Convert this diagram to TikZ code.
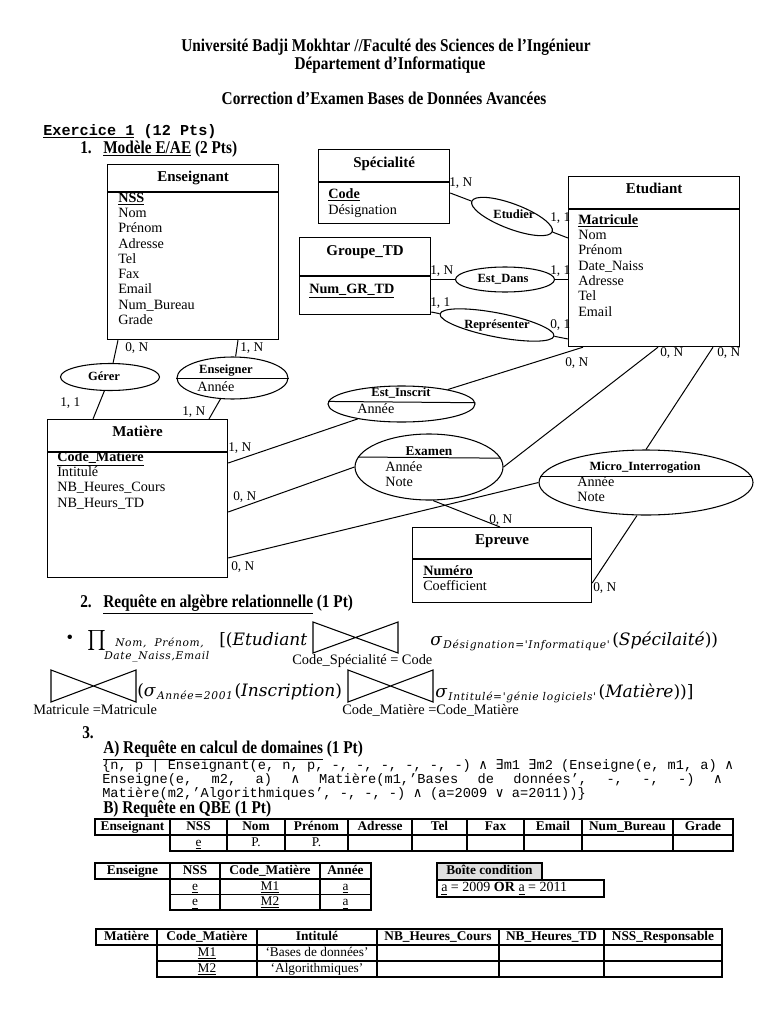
\documentclass[tikz,border=0pt]{standalone}
\usepackage{fontspec}
\setmainfont{Liberation Serif}
\setmonofont{Liberation Mono}
\newfontfamily\headfont[FakeStretch=0.85]{Liberation Serif}
\newfontfamily\mathitfont{DejaVu Serif}
\newfontfamily\mathsubfont[LetterSpace=6]{DejaVu Serif}
\newfontfamily\symfont{DejaVu Sans Mono}
\usetikzlibrary{calc,positioning,shapes.geometric}

\newcommand{\jsp}{\hspace{0pt plus 1fil}\ }

\begin{document}
\begin{tikzpicture}[x=0.75pt,y=-0.75pt,
    txt/.style={inner sep=0pt,text height=.7em,text depth=.2em},
    heading/.style={txt,anchor=west,font=\headfont\bfseries\fontsize{13.5}{16}\selectfont},
    entity/.style 2 args={draw,line width=0.9pt,rectangle,inner sep=0pt,
                          anchor=north west,minimum width=#1*0.75pt,minimum height=#2*0.75pt},
    etitle/.style={txt,font=\bfseries\fontsize{11.25}{13}\selectfont},
    attr/.style={txt,anchor=west,font=\fontsize{10.65}{12}\selectfont},
    relation/.style 2 args={draw,line width=0.8pt,ellipse,inner sep=0pt,
                          minimum width=#1*0.75pt,minimum height=#2*0.75pt},
    rname/.style={txt,font=\bfseries\fontsize{9.4}{11}\selectfont},
    card/.style={txt,anchor=west,font=\fontsize{10}{12}\selectfont},
    link/.style={line width=0.75pt},
    bowtie/.style={line width=0.8pt,line join=miter},
    jlabel/.style={txt,anchor=west,font=\fontsize{10.8}{12}\selectfont},
    mfrag/.style={inner sep=0pt,font=\mathitfont\itshape\fontsize{12.8}{14}\selectfont},
    msub/.style={inner sep=0pt,font=\mathsubfont\itshape\fontsize{8}{9}\selectfont},
    calc/.style={txt,anchor=west,font=\ttfamily\fontsize{10.24}{12}\selectfont},
    tline/.style={line width=0.9pt},
    thead/.style={txt,font=\bfseries\fontsize{10}{12}\selectfont},
    tcell/.style={txt,font=\fontsize{10}{12}\selectfont}]

  \fill[white] (0,0) rectangle (768,1024);
  \useasboundingbox (0,0) rectangle (768,1024);

  % en-tete
  \node[heading,anchor=center] (univ) at (386,48)
    {Université Badji Mokhtar //Faculté des Sciences de l’Ingénieur};
  \node[heading,anchor=center] (dept) at (390,66) {Département d’Informatique};
  \node[heading,anchor=center] (titre) at (384,101)
    {Correction d’Examen Bases de Données Avancées};
  \node[txt,anchor=west,font=\ttfamily\bfseries\fontsize{11.4}{13}\selectfont] (exo)
    at (43,132) {\underline{Exercice 1} (12 Pts)};
  \node[heading] (h1num) at (80,150) {1.};
  \node[heading] (h1) at (103,150) {\underline{Modèle E/AE} (2 Pts)};

  % entites
  \node[entity={171}{175}] (ens) at (107,164) {};
  \draw[line width=0.9pt] ($(ens.north west)+(0,28)$) -- ($(ens.north east)+(0,28)$);
  \node[etitle] (ensT) at ($(ens.north)+(0,14)$) {Enseignant};
  \foreach \a [count=\i] in {{\underline{\textbf{NSS}}},Nom,Prénom,Adresse,Tel,Fax,Email,Num\_Bureau,Grade}
    \node[attr] (ensA\i) at ($(ens.north west)+(11,{35+15.25*(\i-1)})$) {\a};

  \node[entity={131}{74}] (spe) at (318,149) {};
  \draw[line width=0.9pt] ($(spe.north west)+(0,33)$) -- ($(spe.north east)+(0,33)$);
  \node[etitle] (speT) at ($(spe.north)+(0,15)$) {Spécialité};
  \node[attr] (speA1) at ($(spe.north west)+(10,46)$) {\underline{\textbf{Code}}};
  \node[attr] (speA2) at ($(spe.north west)+(10,62)$) {Désignation};

  \node[entity={131}{77}] (grp) at (299,237) {};
  \draw[line width=0.9pt] ($(grp.north west)+(0,39)$) -- ($(grp.north east)+(0,39)$);
  \node[etitle] (grpT) at ($(grp.north)+(0,15)$) {Groupe\_TD};
  \node[attr] (grpA1) at ($(grp.north west)+(10,53)$) {\underline{\textbf{Num\_GR\_TD}}};

  \node[entity={171}{170}] (etu) at (568,176) {};
  \draw[line width=0.9pt] ($(etu.north west)+(0,33)$) -- ($(etu.north east)+(0,33)$);
  \node[etitle] (etuT) at ($(etu.north)+(0,14)$) {Etudiant};
  \foreach \a [count=\i] in {{\underline{\textbf{Matricule}}},Nom,Prénom,Date\_Naiss,Adresse,Tel,Email}
    \node[attr] (etuA\i) at ($(etu.north west)+(10,{45+15.3*(\i-1)})$) {\a};

  \node[entity={180}{158}] (mat) at (47,419) {};
  \draw[line width=0.9pt] ($(mat.north west)+(0,33)$) -- ($(mat.north east)+(0,33)$);
  \node[etitle] (matT) at ($(mat.north)+(0,14)$) {Matière};
  \foreach \a [count=\i] in {{\underline{\textbf{Code\_Matière}}},Intitulé,NB\_Heures\_Cours,NB\_Heurs\_TD}
    \node[attr] (matA\i) at ($(mat.north west)+(10,{39+15.3*(\i-1)})$) {\a};

  \node[entity={179}{75}] (epr) at (412,527) {};
  \draw[line width=0.9pt] ($(epr.north west)+(0,32)$) -- ($(epr.north east)+(0,32)$);
  \node[etitle] (eprT) at ($(epr.north)+(0,14)$) {Epreuve};
  \node[attr] (eprA1) at ($(epr.north west)+(11,45)$) {\underline{\textbf{Numéro}}};
  \node[attr] (eprA2) at ($(epr.north west)+(11,60)$) {Coefficient};

  % associations
  \node[relation={99}{27}] (ger) at (110,377) {};
  \node[rname] (gerT) at (104,377) {Gérer};
  \node[relation={111}{42}] (ensg) at (232.5,378) {};
  \draw[link] (ensg.west) -- (ensg.east);
  \node[rname] (ensgT) at (226,370) {Enseigner};
  \node[attr] (ensgA) at (197,388) {Année};
  \node[relation={86}{25},rotate=-20.7] (etd) at (512,216.5) {};
  \node[rname] (etdT) at (514,215) {Etudier};
  \node[relation={99}{25}] (dans) at (505,279.5) {};
  \node[rname] (dansT) at (503,279.5) {Est\_Dans};
  \node[relation={116}{24},rotate=-11] (rep) at (497,325) {};
  \node[rname] (repT) at (497,325) {Représenter};
  \node[relation={147}{36}] (ins) at (401.5,404) {};
  \draw[link] (ins.178.4) -- (ins.1.6);
  \node[rname] (insT) at (401,393) {Est\_Inscrit};
  \node[attr] (insA) at (357,410) {Année};
  \node[relation={148}{66}] (exa) at (429,467) {};
  \draw[link] (exa.172.8) -- (exa.7.2);
  \node[rname,font=\bfseries\fontsize{10}{12}\selectfont] (exaT) at (429,452) {Examen};
  \node[attr] (exaA1) at (385,468) {Année};
  \node[attr] (exaA2) at (385,483) {Note};
  \node[relation={214}{65}] (mic) at (646,482.5) {};
  \draw[link] (mic.177) -- (mic.3);
  \node[rname] (micT) at (645,467) {Micro\_Interrogation};
  \node[attr] (micA1) at (577,483) {Année};
  \node[attr] (micA2) at (577,498) {Note};

  % liens
  \draw[link] ($(ens.south west)+(11,0)$) -- (ger) -- ($(mat.north west)+(46,0)$);
  \draw[link] ($(ens.south west)+(131,0)$) -- (ensg) -- ($(mat.north west)+(162,0)$);
  \draw[link] ($(spe.north east)+(0,44)$) -- (etd) -- ($(etu.north west)+(0,62)$);
  \draw[link] ($(grp.north east)+(0,42.5)$) -- (dans) -- ($(etu.north west)+(0,103.5)$);
  \draw[link] ($(grp.north east)+(0,75)$) -- (rep) -- ($(etu.north west)+(0,163)$);
  \draw[link] ($(mat.north east)+(0,44)$) -- (ins) -- ($(etu.south west)+(15,0)$);
  \draw[link] ($(mat.north east)+(0,93)$) -- (exa.west);
  \draw[link] (exa.east) -- ($(etu.south west)+(90,0)$);
  \draw[link] ($(exa.south)+(4,0)$) -- ($(epr.north west)+(88,0)$);
  \draw[link] ($(mat.north east)+(0,139)$) -- (mic.west);
  \draw[link] (mic.north) -- ($(etu.south west)+(145,0)$);
  \draw[link] ($(mic.south)+(-9,0)$) -- ($(epr.north east)+(0,56)$);

  % cardinalites
  \foreach \x/\y/\t [count=\i] in {125/348/{0, N},60/403/{1, 1},240/348/{1, N},182/412/{1, N},
      228/448/{1, N},565/363/{0, N},233/497/{0, N},660/353/{0, N},489/520/{0, N},
      231/567/{0, N},717/353/{0, N},593/588/{0, N},449/183/{1, N},550/218/{1, 1},
      430/271/{1, N},550/271/{1, 1},430/303/{1, 1},550/325/{0, 1}}
    \node[card] (card\i) at (\x,\y) {\t};

  % algebre relationnelle
  \node[heading] (h2num) at (80,604) {2.};
  \node[heading] (h2) at (103,604) {\underline{Requête en algèbre relationnelle} (1 Pt)};
  \node[inner sep=0pt,font=\fontsize{14}{14}\selectfont] (bul) at (70,639) {•};
  \node[inner sep=0pt,scale=1.5] (prod) at (96.5,640) {$\prod$};
  \node[msub,anchor=west] (prodS1) at (115,643) {Nom,\ \ Prénom,};
  \node[msub,anchor=west] (prodS2) at (104,657) {Date\_Naiss,Email};
  \node[mfrag,anchor=base west] (etuR) at (219,645) {{\upshape[(}Etudiant};
  \draw[bowtie] (313,622) -- (313,653) -- (398,622) -- (398,653) -- cycle;
  \node[jlabel] (j1) at (292,661) {Code\_Spécialité = Code};
  \node[mfrag,anchor=base west] (sig1) at (430,645) {σ};
  \node[msub,anchor=base west] (sig1S) at ($(sig1.base east)+(1,3.5)$) {Désignation='Informatique'};
  \node[mfrag,anchor=base west] (speR) at ($(sig1S.base east)+(2,-3.5)$) {{\upshape(}Spécilaité{\upshape))}};

  \draw[bowtie] (51,670) -- (51,702) -- (136,670) -- (136,702) -- cycle;
  \node[jlabel] (j2) at (33,711) {Matricule =Matricule};
  \node[mfrag,anchor=base west] (sig2) at (137,696) {{\upshape(}σ};
  \node[msub,anchor=base west] (sig2S) at ($(sig2.base east)+(1,3.5)$) {Année=2001};
  \node[mfrag,anchor=base west] (insR) at ($(sig2S.base east)+(1,-3.5)$) {{\upshape(}Inscription{\upshape)}};
  \draw[bowtie] (348,670) -- (348,702) -- (433,670) -- (433,702) -- cycle;
  \node[jlabel] (j3) at (342,711) {Code\_Matière =Code\_Matière};
  \node[mfrag,anchor=base west] (sig3) at (435,697) {σ};
  \node[msub,anchor=base west] (sig3S) at ($(sig3.base east)+(1,3.5)$) {Intitulé='génie logiciels'};
  \node[mfrag,anchor=base west] (matR) at ($(sig3S.base east)+(2,-3.5)$) {{\upshape(}Matière{\upshape))]}};

  % calcul de domaines
  \node[heading] (h3num) at (82,735) {3.};
  \node[heading] (h3a) at (103,750.5) {\underline{A) Requête en calcul de domaines} (1 Pt)};
  \node[calc] (dom1) at (102,766)
    {\{n, p | Enseignant(e, n, p, -, -, -, -, -, -) {\symfont ∧} {\symfont ∃}m1 {\symfont ∃}m2 (Enseigne(e, m1, a) {\symfont ∧}};
  \node[calc] (dom2) at (102,780)
    {\makebox[473.25pt][l]{Enseigne(e,\jsp m2,\jsp a)\jsp {\symfont ∧}\jsp Matière(m1,’Bases\jsp de\jsp données’,\jsp -,\jsp -,\jsp -)\jsp {\symfont ∧}}};
  \node[calc] (dom3) at (102,794)
    {Matière(m2,’Algorithmiques’, -, -, -) {\symfont ∧} (a=2009 {\symfont ∨} a=2011))\}};
  \node[heading] (h3b) at (103,810.5) {\underline{B) Requête en QBE} (1 Pt)};

  % QBE : Enseignant
  \draw[tline] (95,819) rectangle (733,835);
  \foreach \x in {170,227,285,348,412,467,524,582,673} \draw[tline] (\x,819) -- (\x,835);
  \draw[tline] (170,835) rectangle (733,851);
  \foreach \x in {227,285,348,412,467,524,582,673} \draw[tline] (\x,835) -- (\x,851);
  \foreach \x/\t [count=\i] in {132.5/Enseignant,198.5/NSS,256/Nom,316.5/Prénom,380/Adresse,
      439.5/Tel,495.5/Fax,553/Email,627.5/Num\_Bureau,703/Grade}
    \node[thead] (qe\i) at (\x,827) {\t};
  \node[tcell] (qed1) at (198.5,843) {\underline{e}};
  \node[tcell] (qed2) at (256,843) {P.};
  \node[tcell] (qed3) at (316.5,843) {P.};

  % QBE : Enseigne
  \draw[tline] (95,863) rectangle (371,879);
  \foreach \x in {170,220,320} \draw[tline] (\x,863) -- (\x,879);
  \draw[tline] (170,879) rectangle (371,910);
  \draw[tline] (170,894.5) -- (371,894.5);
  \foreach \x in {220,320} \draw[tline] (\x,879) -- (\x,910);
  \foreach \x/\t [count=\i] in {132.5/Enseigne,195/NSS,270/Code\_Matière,345.5/Année}
    \node[thead] (qs\i) at (\x,871) {\t};
  \foreach \x/\t [count=\i] in {195/e,270/M1,345.5/a}
    \node[tcell] (qsa\i) at (\x,887) {\underline{\t}};
  \foreach \x/\t [count=\i] in {195/e,270/M2,345.5/a}
    \node[tcell] (qsb\i) at (\x,902.5) {\underline{\t}};

  % boite condition
  \draw[tline,fill=gray!25] (437,863) rectangle (542,880);
  \node[thead] (condT) at (489.5,871.5) {Boîte condition};
  \draw[tline] (437,880) rectangle (604,897);
  \node[tcell,anchor=west,font=\fontsize{10.5}{12}\selectfont] (cond) at (441,888.5)
    {\underline{a} = 2009 \textbf{OR} \underline{a} = 2011};

  % QBE : Matiere
  \draw[tline] (96,929) rectangle (722,945);
  \foreach \x in {157,257,377,499,604} \draw[tline] (\x,929) -- (\x,945);
  \draw[tline] (157,945) rectangle (722,977);
  \draw[tline] (157,961) -- (722,961);
  \foreach \x in {257,377,499,604} \draw[tline] (\x,945) -- (\x,977);
  \foreach \x/\t [count=\i] in {126.5/Matière,207/Code\_Matière,317/Intitulé,438/NB\_Heures\_Cours,
      551.5/NB\_Heures\_TD,663/NSS\_Responsable}
    \node[thead] (qm\i) at (\x,937) {\t};
  \node[tcell] (qma1) at (207,953) {\underline{M1}};
  \node[tcell] (qma2) at (317,953) {‘Bases de données’};
  \node[tcell] (qmb1) at (207,969) {\underline{M2}};
  \node[tcell] (qmb2) at (317,969) {‘Algorithmiques’};
\end{tikzpicture}
\end{document}
